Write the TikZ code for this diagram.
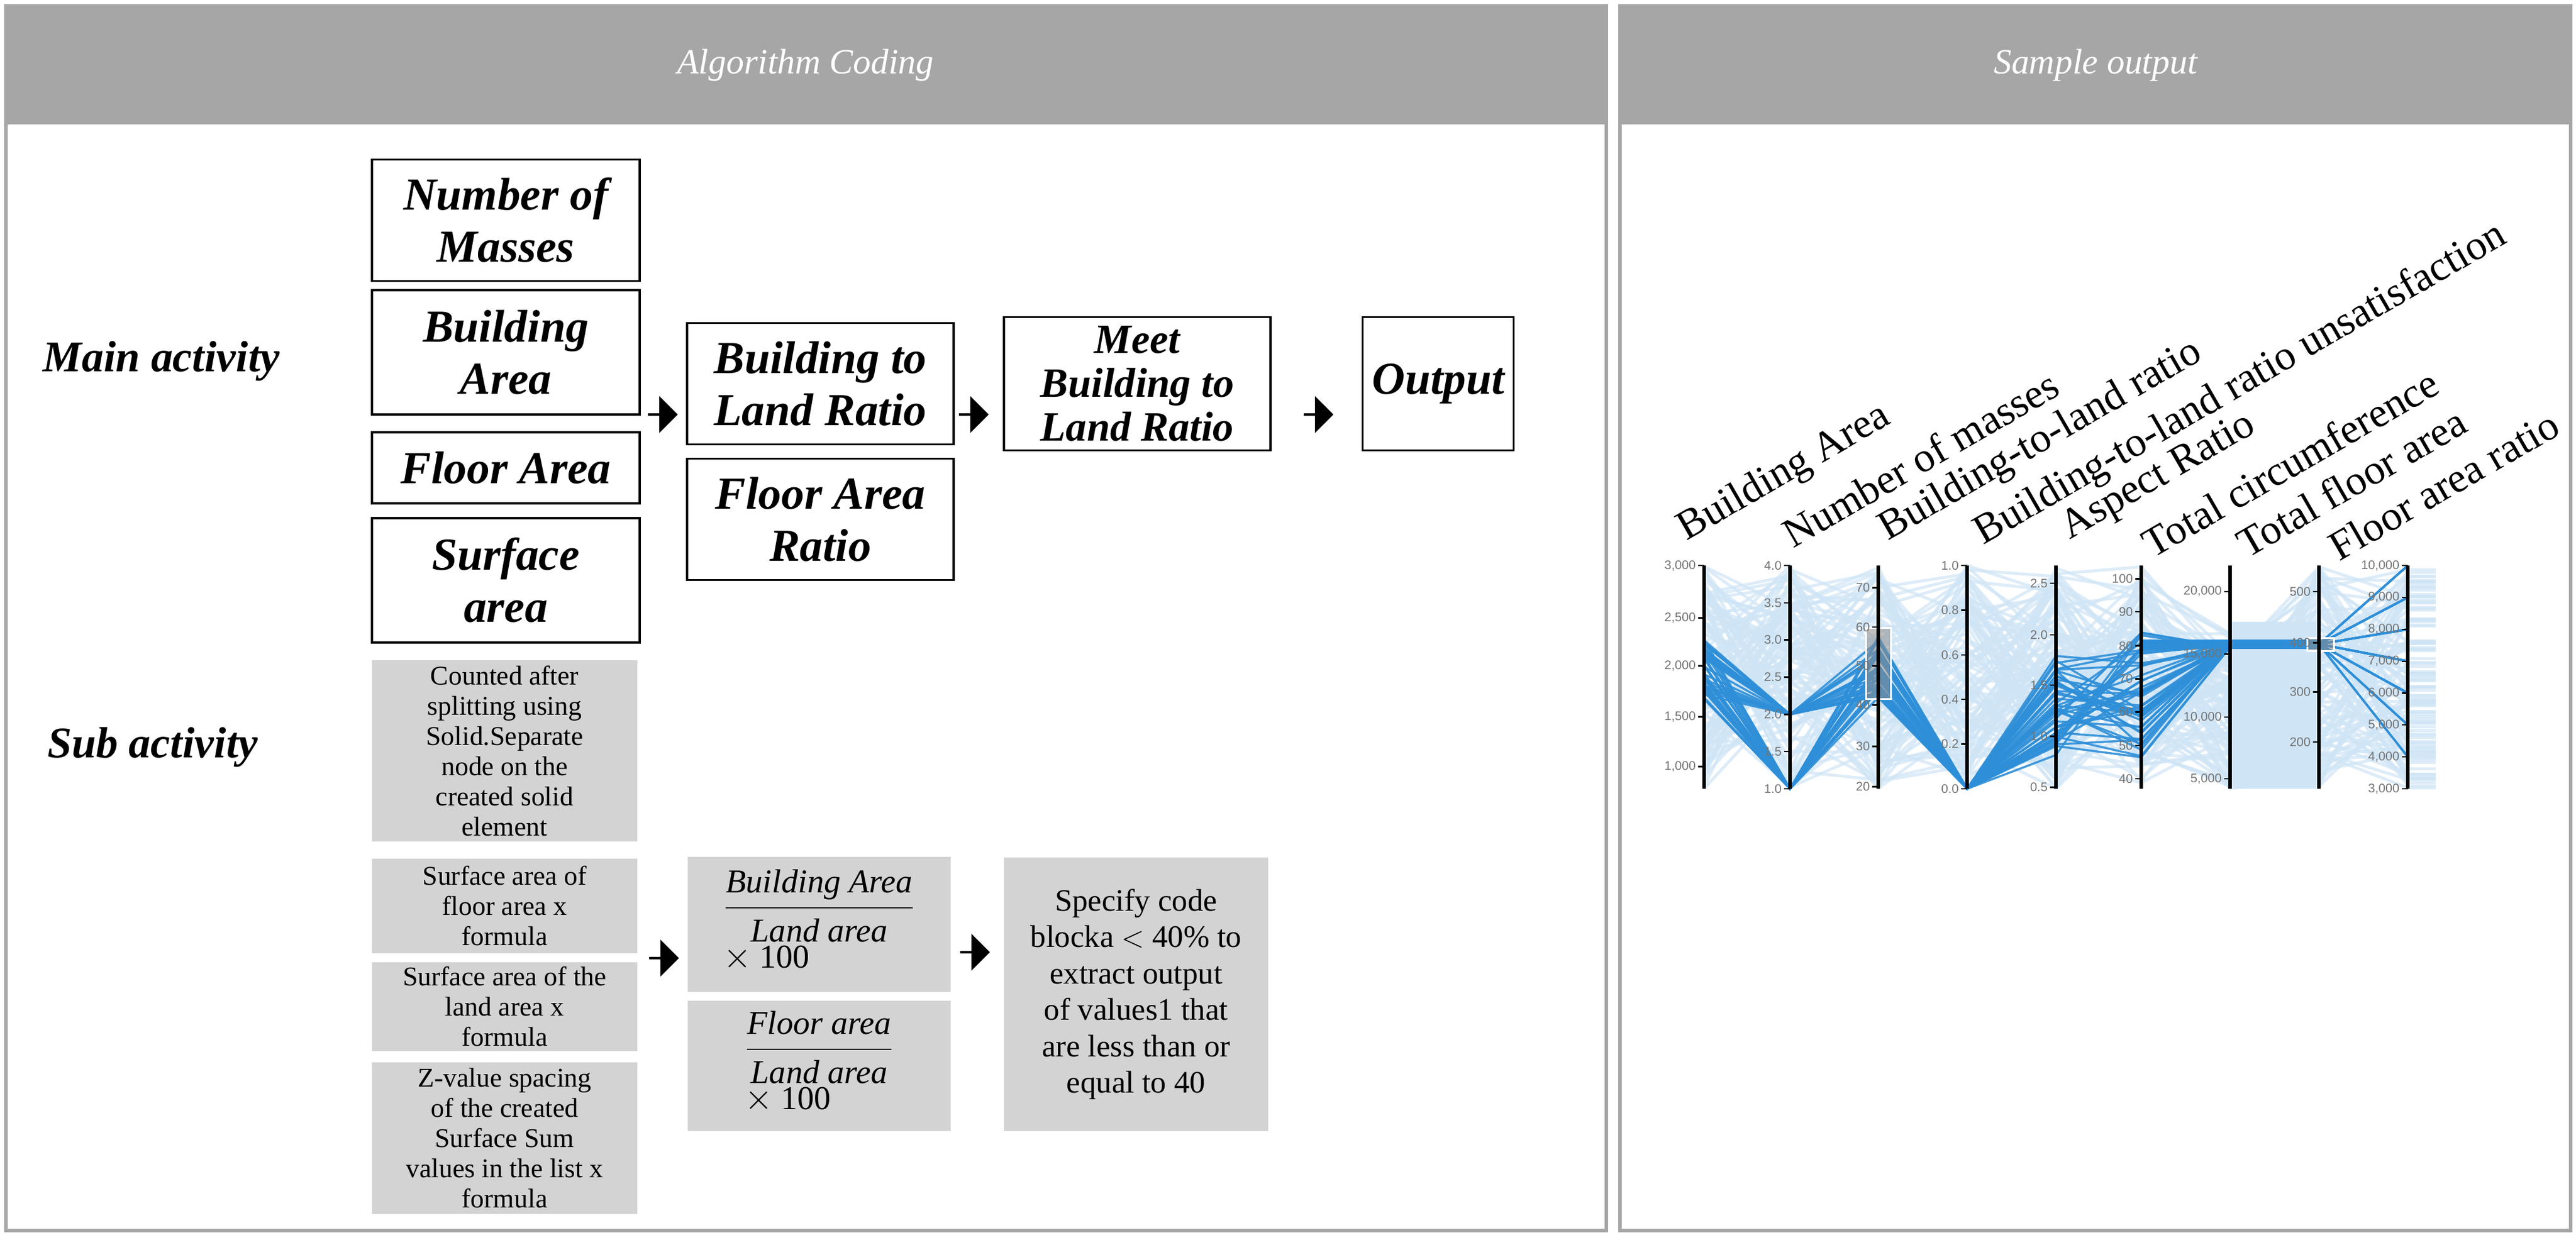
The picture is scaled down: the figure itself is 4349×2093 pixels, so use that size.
\documentclass[tikz,border=0pt]{standalone}
\usepackage{fontspec}
\setmainfont{Liberation Serif}
\setsansfont{Liberation Sans}
\usetikzlibrary{shapes.arrows}
\definecolor{hdr}{HTML}{A6A6A6}
\definecolor{subg}{HTML}{D3D3D3}
\definecolor{lblue}{HTML}{CFE5F6}
\definecolor{dblue}{HTML}{2E8FD8}
\begin{document}
\begin{tikzpicture}[x=0.01cm,y=-0.01cm,
  mainbox/.style={draw=black,line width=0.35mm,fill=white,align=center,font=\fontsize{22}{25}\selectfont\bfseries\itshape,inner sep=0pt},
  subbox/.style={fill=subg,align=center,font=\fontsize{13}{14.5}\selectfont,inner sep=0pt},
  blockarrow/.style={single arrow,fill=black,minimum height=0.5cm,minimum width=0.62cm,single arrow head extend=0.1cm,inner sep=0pt},
  hdrtext/.style={text=white,font=\fontsize{17}{20}\selectfont\itshape},
  acttext/.style={font=\fontsize{21}{24}\selectfont\bfseries\itshape},
  axlab/.style={anchor=south west,rotate=30,font=\fontsize{20}{22}\selectfont,inner sep=0pt},
  tick/.style={anchor=east,font=\sffamily\fontsize{6}{7}\selectfont,text=black!55,inner sep=1pt},
  ax/.style={line width=0.6mm,black}]
\useasboundingbox (0,0) rectangle (4349,2093);
\fill[white] (0,0) rectangle (4349,2093);
% panels
\draw[hdr,line width=0.6mm] (10,10) rectangle (2712,2078);
\fill[hdr] (10,10) rectangle (2712,210);
\draw[hdr,line width=0.6mm] (2735,10) rectangle (4340,2078);
\fill[hdr] (2735,10) rectangle (4340,210);
\node[hdrtext] (h1) at (1360,110) {Algorithm Coding};
\node[hdrtext] (h2) at (3538,110) {Sample output};
% labels
\node[acttext,anchor=west] (ma) at (60,610) {Main activity};
\node[acttext,anchor=west] (sa) at (68,1262) {Sub activity};
% main boxes
\node[mainbox,minimum width=4.52cm,minimum height=2.05cm] (b1) at (854,372) {Number of\\Masses};
\node[mainbox,minimum width=4.52cm,minimum height=2.1cm] (b2) at (854,595) {Building\\Area};
\node[mainbox,minimum width=4.52cm,minimum height=1.2cm] (b3) at (854,790) {Floor Area};
\node[mainbox,minimum width=4.52cm,minimum height=2.1cm] (b4) at (854,980) {Surface\\area};
\node[mainbox,minimum width=4.5cm,minimum height=2.05cm] (c1) at (1385,648) {Building to\\Land Ratio};
\node[mainbox,minimum width=4.5cm,minimum height=2.05cm] (c2) at (1385,877) {Floor Area\\Ratio};
\node[mainbox,minimum width=4.5cm,minimum height=2.25cm,font=\fontsize{20}{21}\selectfont\bfseries\itshape] (d1) at (1920,648) {Meet\\Building to\\Land Ratio};
\node[mainbox,minimum width=2.55cm,minimum height=2.25cm] (e1) at (2428,648) {Output};
\node[blockarrow] (a1) at (1118,700) {};
\node[blockarrow] (a2) at (1643,700) {};
\node[blockarrow] (a3) at (2225,700) {};
% sub boxes
\node[subbox,minimum width=4.47cm,minimum height=3.05cm] (s1) at (852,1268) {Counted after\\splitting using\\Solid.Separate\\node on the\\created solid\\element};
\node[subbox,minimum width=4.47cm,minimum height=1.6cm] (s2) at (852,1530) {Surface area of\\floor area x\\formula};
\node[subbox,minimum width=4.47cm,minimum height=1.5cm] (s3) at (852,1700) {Surface area of the\\land area x\\formula};
\node[subbox,minimum width=4.47cm,minimum height=2.55cm] (s4) at (852,1922) {Z-value spacing\\of the created\\Surface Sum\\values in the list x\\formula};
\node[subbox,minimum width=4.43cm,minimum height=2.27cm,font=\fontsize{16}{18}\selectfont] (t1) at (1383,1561) {\begin{tabular}{@{}l@{}}$\displaystyle\frac{\textit{Building Area}}{\textit{Land area}}$\\[6pt] $\times$ 100\end{tabular}};
\node[subbox,minimum width=4.43cm,minimum height=2.2cm,font=\fontsize{16}{18}\selectfont] (t2) at (1383,1800) {\begin{tabular}{@{}l@{}}$\displaystyle\frac{\textit{Floor area}}{\textit{Land area}}$\\[6pt] $\times$ 100\end{tabular}};
\node[subbox,minimum width=4.45cm,minimum height=4.62cm,font=\fontsize{15}{17.5}\selectfont] (u1) at (1918,1679) {Specify code\\blocka $<$ 40\% to\\extract output\\of values1 that\\are less than or\\equal to 40};
\node[blockarrow] (a4) at (1120,1618) {};
\node[blockarrow] (a5) at (1645,1608) {};
% chart
\def\ytop{955}\def\ylen{377}
\fill[lblue] (3765,1050) rectangle (3915,1332);
\pgfmathsetseed{7}
\foreach \i in {1,...,110}{
  \pgfmathsetmacro\qa{rnd}\pgfmathsetmacro\qb{rnd}\pgfmathsetmacro\qc{rnd}
  \pgfmathsetmacro\qd{rnd}\pgfmathsetmacro\qe{rnd}\pgfmathsetmacro\qf{rnd}
  \pgfmathsetmacro\qg{0.3+0.7*rnd}\pgfmathsetmacro\qh{rnd}\pgfmathsetmacro\qi{rnd}
  \draw[lblue,line width=0.5mm,opacity=0.7] (2877,\ytop+\qa*\ylen) -- (3022,\ytop+\qb*\ylen) -- (3171,\ytop+\qc*\ylen) -- (3321,\ytop+\qd*\ylen) -- (3471,\ytop+\qe*\ylen) -- (3615,\ytop+\qf*\ylen) -- (3765,\ytop+\qg*\ylen) -- (3915,\ytop+\qh*\ylen) -- (4065,\ytop+\qi*\ylen) -- (4112,\ytop+\qi*\ylen);
}
\foreach \i in {1,...,45}{
  \pgfmathsetmacro\qa{0.33+0.27*rnd}\pgfmathsetmacro\qb{rnd<0.5 ? 0.667 : 1}
  \pgfmathsetmacro\qc{0.3+0.3*rnd}\pgfmathsetmacro\qe{0.4+0.45*rnd}
  \pgfmathsetmacro\qf{0.3+0.6*rnd}\pgfmathsetmacro\qg{0.34+0.03*rnd}
  \pgfmathsetmacro\qi{int(rnd*7)/7}
  \draw[dblue,line width=0.35mm,opacity=0.9] (2877,\ytop+\qa*\ylen) -- (3022,\ytop+\qb*\ylen) -- (3171,\ytop+\qc*\ylen) -- (3321,\ytop+\ylen) -- (3471,\ytop+\qe*\ylen) -- (3615,\ytop+\qf*\ylen) -- (3765,\ytop+\qg*\ylen) -- (3915,\ytop+0.352*\ylen) -- (4065,\ytop+\qi*\ylen);
}
\fill[dblue] (3615,1080) rectangle (3915,1096);
% brushes
\draw[white,line width=0.3mm,fill=black!45,fill opacity=0.55] (3150,1060) rectangle (3192,1180);
\draw[white,line width=0.3mm,fill=black!45,fill opacity=0.55] (3895,1077) rectangle (3940,1099);
% axes
\foreach \x/\n in {2877/p1,3022/p2,3171/p3,3321/p4,3471/p5,3615/p6,3765/p7,3915/p8,4065/p9}{
  \coordinate (\n t) at (\x,\ytop); \coordinate (\n b) at (\x,\ytop+\ylen);
  \draw[ax] (\n t) -- (\n b);
}
% ticks
\foreach \x/\lst in {
 2877/{0/3{,}000,0.235/2{,}500,0.45/2{,}000,0.677/1{,}500,0.9/1{,}000},
 3022/{0/4.0,0.167/3.5,0.333/3.0,0.5/2.5,0.667/2.0,0.833/1.5,1/1.0},
 3171/{0.1/70,0.276/60,0.45/50,0.624/40,0.81/30,0.99/20},
 3321/{0/1.0,0.2/0.8,0.4/0.6,0.6/0.4,0.8/0.2,1/0.0},
 3471/{0.08/2.5,0.31/2.0,0.536/1.5,0.765/1.0,0.993/0.5},
 3615/{0.06/100,0.207/90,0.36/80,0.508/70,0.657/60,0.806/50,0.955/40},
 3765/{0.116/20{,}000,0.397/15{,}000,0.679/10{,}000,0.955/5{,}000},
 3915/{0.116/500,0.346/400,0.566/300,0.79/200},
 4065/{0/10{,}000,0.143/9{,}000,0.286/8{,}000,0.429/7{,}000,0.571/6{,}000,0.714/5{,}000,0.857/4{,}000,1/3{,}000}}{
  \foreach \f/\t in \lst{
    \draw[black,line width=0.25mm] (\x-10,\ytop+\f*\ylen) -- (\x,\ytop+\f*\ylen);
    \node[tick] at (\x-10,\ytop+\f*\ylen) {\t};
  }
}
% axis labels
\node[axlab] (l1) at (2855,928) {Building Area};
\node[axlab] (l2) at (3028,928) {Number of masses};
\node[axlab] (l3) at (3195,928) {Building-to-land ratio};
\node[axlab] (l4) at (3356,935) {Building-to-land ratio unsatisfaction};
\node[axlab] (l5) at (3502,925) {Aspect Ratio};
\node[axlab] (l6) at (3635,945) {Total circumference};
\node[axlab] (l7) at (3795,945) {Total floor area};
\node[axlab] (l8) at (3950,950) {Floor area ratio};
\end{tikzpicture}
\end{document}
